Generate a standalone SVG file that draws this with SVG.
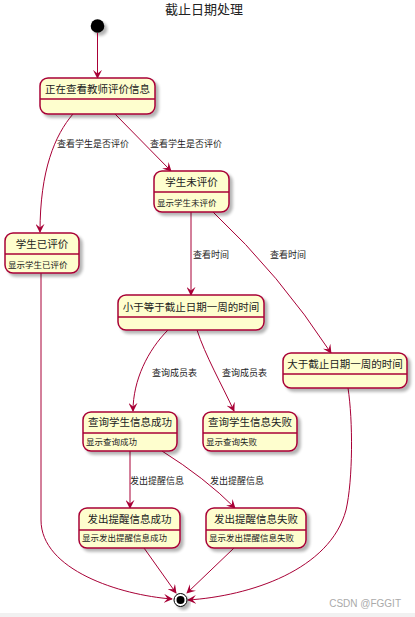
<svg xmlns="http://www.w3.org/2000/svg" width="415" height="617" viewBox="0 0 415 617">
<defs>
<filter id="sh" x="-20%" y="-20%" width="150%" height="160%">
<feGaussianBlur in="SourceAlpha" stdDeviation="1.6"/>
<feOffset dx="3" dy="3" result="b"/>
<feComponentTransfer><feFuncA type="linear" slope="0.3"/></feComponentTransfer>
<feMerge><feMergeNode/><feMergeNode in="SourceGraphic"/></feMerge>
</filter>
<marker id="ah" viewBox="0 0 10 10" refX="9" refY="5" markerWidth="9" markerHeight="9" markerUnits="userSpaceOnUse" orient="auto">
<path d="M0,0 L10,5 L0,10 L4,5 Z" fill="#A80036"/>
</marker>
<style>
.st rect{fill:#FEFECE;stroke:#A80036;stroke-width:1.5}
.st line{stroke:#A80036;stroke-width:1.5}
.t{font-family:"Noto Sans CJK SC","Noto Sans",sans-serif;fill:#222}
.nt{font-size:10.5px;text-anchor:middle}
.sub{font-size:8.5px}
.lb{font-size:9px}
.c path,.c line{fill:none;stroke:#A80036;stroke-width:1;marker-end:url(#ah)}
</style>
</defs>
<rect x="0" y="0" width="415" height="617" fill="#ffffff"/>
<rect x="0" y="613" width="415" height="4" fill="#f1f1f1"/>
<text class="t" x="204" y="14" font-size="13" text-anchor="middle">截止日期处理</text>

<g id="start"><circle cx="97.5" cy="26" r="6.8" fill="#000" filter="url(#sh)"/></g>

<g class="c" id="connectors">
<line x1="97.5" y1="33" x2="97.5" y2="78"/>
<path d="M73,114 C55,135 40,170 40,232"/>
<path d="M115,114 L171,171"/>
<path d="M191,212 L191,295"/>
<path d="M213,212 Q280,275 331,353"/>
<path d="M168,330 C148,350 133,380 133,411"/>
<path d="M197,330 C205,355 222,385 234,411"/>
<path d="M130,451 L130,508"/>
<path d="M162,451 Q205,478 235,508"/>
<path d="M41,273 L41,520 C41,570 120,595 172,599"/>
<path d="M348,388 C353,420 353,480 346,510 C330,570 250,596 188,600"/>
<path d="M144,548 L176,593"/>
<path d="M234,548 L187,593"/>
</g>
<g id="labels">
<text class="t lb" x="57" y="147">查看学生是否评价</text>
<text class="t lb" x="150" y="147">查看学生是否评价</text>
<text class="t lb" x="193" y="258">查看时间</text>
<text class="t lb" x="270" y="258">查看时间</text>
<text class="t lb" x="152" y="376">查询成员表</text>
<text class="t lb" x="222" y="376">查询成员表</text>
<text class="t lb" x="130" y="484">发出提醒信息</text>
<text class="t lb" x="210" y="484">发出提醒信息</text>
</g>

<g id="n1" class="st"><rect x="40" y="78" width="115" height="36" rx="8" filter="url(#sh)"/><line x1="40" y1="99" x2="155" y2="99"/><text class="t nt" x="97.5" y="93">正在查看教师评价信息</text></g>
<g id="n2" class="st"><rect x="154" y="171" width="75" height="41" rx="8" filter="url(#sh)"/><line x1="154" y1="192" x2="229" y2="192"/><text class="t nt" x="191.5" y="186">学生未评价</text><text class="t sub" x="157" y="206">显示学生未评价</text></g>
<g id="n3" class="st"><rect x="5" y="233" width="74" height="40" rx="8" filter="url(#sh)"/><line x1="5" y1="254" x2="79" y2="254"/><text class="t nt" x="42" y="248">学生已评价</text><text class="t sub" x="8" y="268">显示学生已评价</text></g>
<g id="n4" class="st"><rect x="118" y="295" width="146" height="35" rx="8" filter="url(#sh)"/><line x1="118" y1="317" x2="264" y2="317"/><text class="t nt" x="191" y="311">小于等于截止日期一周的时间</text></g>
<g id="n5" class="st"><rect x="283" y="353" width="124" height="35" rx="8" filter="url(#sh)"/><line x1="283" y1="374" x2="407" y2="374"/><text class="t nt" x="345" y="368">大于截止日期一周的时间</text></g>
<g id="n6" class="st"><rect x="83" y="412" width="94" height="39" rx="8" filter="url(#sh)"/><line x1="83" y1="433" x2="177" y2="433"/><text class="t nt" x="130" y="426">查询学生信息成功</text><text class="t sub" x="86" y="445">显示查询成功</text></g>
<g id="n7" class="st"><rect x="203" y="412" width="94" height="39" rx="8" filter="url(#sh)"/><line x1="203" y1="433" x2="297" y2="433"/><text class="t nt" x="250" y="426">查询学生信息失败</text><text class="t sub" x="206" y="445">显示查询失败</text></g>
<g id="n8" class="st"><rect x="79" y="508" width="101" height="40" rx="8" filter="url(#sh)"/><line x1="79" y1="530" x2="180" y2="530"/><text class="t nt" x="129.5" y="523">发出提醒信息成功</text><text class="t sub" x="82" y="541">显示发出提醒信息成功</text></g>
<g id="n9" class="st"><rect x="206" y="508" width="100" height="40" rx="8" filter="url(#sh)"/><line x1="206" y1="530" x2="306" y2="530"/><text class="t nt" x="256" y="523">发出提醒信息失败</text><text class="t sub" x="209" y="541">显示发出提醒信息失败</text></g>

<g id="end"><circle cx="180.5" cy="600" r="6.5" fill="#fff" stroke="#000" stroke-width="1" filter="url(#sh)"/><circle cx="180.5" cy="600" r="4" fill="#000"/></g>
<text x="401" y="607" font-family="'Liberation Sans',sans-serif" font-size="10" fill="#aaaaaa" text-anchor="end">CSDN @FGGIT</text>
</svg>
